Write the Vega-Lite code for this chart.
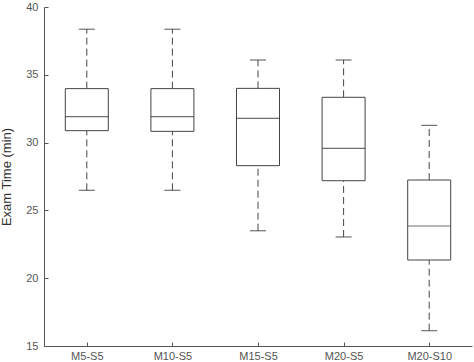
{
  "$schema": "https://vega.github.io/schema/vega-lite/v6.json",
  "width": 428,
  "height": 339,
  "autosize": {"type": "none"},
  "padding": {"left": 44, "top": 7, "right": 2, "bottom": 16},
  "background": "white",
  "config": {
    "view": {"stroke": null},
    "axis": {"labelFont": "Liberation Sans", "titleFont": "Liberation Sans", "labelColor": "#555", "titleColor": "#333", "domainColor": "#555", "tickColor": "#555", "grid": false, "labelFontSize": 11}
  },
  "data": {
    "values": [
      {"group": "M5-S5", "lower": 26.48, "q1": 30.88, "median": 31.91, "q3": 33.98, "upper": 38.36},
      {"group": "M10-S5", "lower": 26.48, "q1": 30.83, "median": 31.91, "q3": 33.98, "upper": 38.36},
      {"group": "M15-S5", "lower": 23.5, "q1": 28.3, "median": 31.79, "q3": 34.0, "upper": 36.09},
      {"group": "M20-S5", "lower": 23.04, "q1": 27.19, "median": 29.58, "q3": 33.34, "upper": 36.09},
      {"group": "M20-S10", "lower": 16.13, "q1": 21.34, "median": 23.85, "q3": 27.24, "upper": 31.27}
    ]
  },
  "encoding": {
    "x": {
      "field": "group", "type": "nominal", "sort": null,
      "scale": {"type": "point", "padding": 0.5},
      "axis": {"title": null, "labelAngle": 0, "tickSize": -4, "labelPadding": 8, "labelFontSize": 11}
    }
  },
  "layer": [
    {
      "mark": {"type": "rule", "strokeDash": [7, 4], "color": "#444", "strokeWidth": 1},
      "encoding": {
        "y": {"field": "lower", "type": "quantitative", "scale": {"domain": [15, 40], "nice": false, "zero": false},
          "axis": {"title": "Exam Time (min)", "titleFontSize": 13, "titleFontWeight": "normal", "titlePadding": 12,
            "values": [15, 16.25, 17.5, 18.75, 20, 21.25, 22.5, 23.75, 25, 26.25, 27.5, 28.75, 30, 31.25, 32.5, 33.75, 35, 36.25, 37.5, 38.75, 40],
            "labelExpr": "datum.value % 5 === 0 ? datum.label : ''",
            "tickSize": {"condition": {"test": "datum.value % 5 === 0", "value": -4}, "value": -3},
            "labelPadding": 10}},
        "y2": {"field": "q1"}
      }
    },
    {
      "mark": {"type": "rule", "strokeDash": [7, 4], "color": "#444", "strokeWidth": 1},
      "encoding": {"y": {"field": "q3", "type": "quantitative"}, "y2": {"field": "upper"}}
    },
    {
      "mark": {"type": "bar", "size": 43, "fill": "white", "stroke": "#444", "strokeWidth": 1},
      "encoding": {"y": {"field": "q1", "type": "quantitative"}, "y2": {"field": "q3"}}
    },
    {
      "mark": {"type": "tick", "size": 43, "thickness": 1.2, "color": "#333"},
      "encoding": {"y": {"field": "median", "type": "quantitative"}}
    },
    {
      "mark": {"type": "tick", "size": 16, "thickness": 1.2, "color": "#333"},
      "encoding": {"y": {"field": "lower", "type": "quantitative"}}
    },
    {
      "mark": {"type": "tick", "size": 16, "thickness": 1.2, "color": "#333"},
      "encoding": {"y": {"field": "upper", "type": "quantitative"}}
    }
  ]
}
